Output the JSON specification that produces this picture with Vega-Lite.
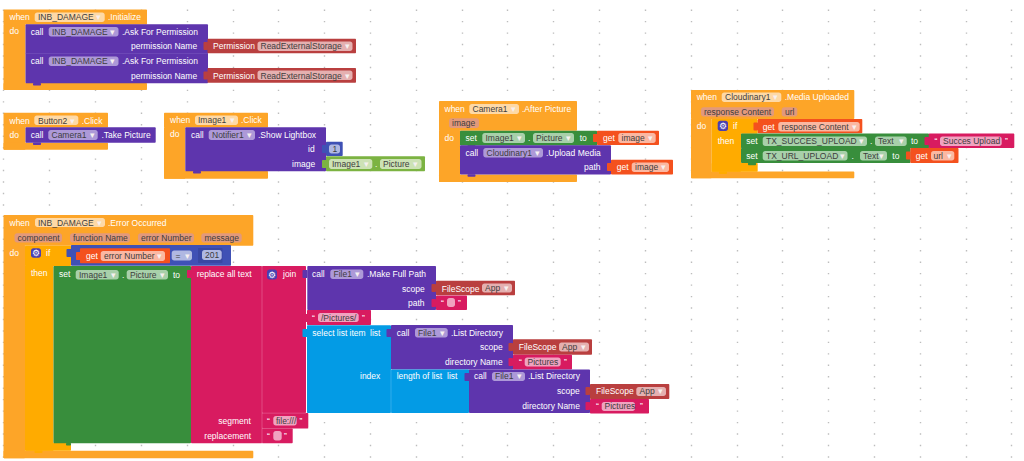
{
  "$schema": "https://vega.github.io/schema/vega-lite/v6.json",
  "width": 1024,
  "height": 461,
  "padding": 0,
  "autosize": {"type": "fit", "contains": "padding"},
  "background": "#ffffff",
  "view": {"stroke": null},
  "datasets": {
    "blocks": [
      {"x": 3.5, "x2": 147, "y": 9.5, "y2": 24.5, "k": "event"},
      {"x": 3.5, "x2": 25.5, "y": 24, "y2": 90, "k": "event"},
      {"x": 3.5, "x2": 147, "y": 83, "y2": 90, "k": "event"},
      {"x": 25.5, "x2": 208, "y": 24.3, "y2": 83.3, "k": "proc"},
      {"x": 33, "x2": 41, "y": 83, "y2": 85.5, "k": "proc"},
      {"x": 25.5, "x2": 208, "y": 53, "y2": 53.6, "k": "sep"},
      {"x": 203.5, "x2": 208, "y": 42, "y2": 50, "k": "perm"},
      {"x": 207.5, "x2": 356, "y": 38.7, "y2": 53.3, "k": "perm"},
      {"x": 203.5, "x2": 208, "y": 71.5, "y2": 79.5, "k": "perm"},
      {"x": 207.5, "x2": 356, "y": 68, "y2": 82.7, "k": "perm"},

      {"x": 3.5, "x2": 108, "y": 112.7, "y2": 127.5, "k": "event"},
      {"x": 3.5, "x2": 25.5, "y": 127, "y2": 149.7, "k": "event"},
      {"x": 3.5, "x2": 108, "y": 142.7, "y2": 149.7, "k": "event"},
      {"x": 25.5, "x2": 155.7, "y": 127.3, "y2": 142.7, "k": "proc"},
      {"x": 33, "x2": 41, "y": 142.5, "y2": 145, "k": "proc"},

      {"x": 164, "x2": 268, "y": 112.7, "y2": 127.5, "k": "event"},
      {"x": 164, "x2": 185.3, "y": 127, "y2": 178.7, "k": "event"},
      {"x": 164, "x2": 268, "y": 171, "y2": 178.7, "k": "event"},
      {"x": 185.3, "x2": 326, "y": 127.3, "y2": 171.3, "k": "proc"},
      {"x": 193, "x2": 201, "y": 171, "y2": 173.5, "k": "proc"},
      {"x": 322, "x2": 326.5, "y": 145, "y2": 153, "k": "math"},
      {"x": 326, "x2": 342.7, "y": 141.7, "y2": 156, "k": "math"},
      {"x": 322, "x2": 326.5, "y": 160, "y2": 168, "k": "comp"},
      {"x": 326, "x2": 425, "y": 156.3, "y2": 171.3, "k": "comp"},

      {"x": 439, "x2": 577, "y": 101, "y2": 130.7, "k": "event"},
      {"x": 439, "x2": 460, "y": 130, "y2": 182, "k": "event"},
      {"x": 439, "x2": 577, "y": 174.5, "y2": 182, "k": "event"},
      {"x": 460, "x2": 597, "y": 130.7, "y2": 145.5, "k": "set"},
      {"x": 467.5, "x2": 475.5, "y": 145, "y2": 147.5, "k": "set"},
      {"x": 593, "x2": 597.5, "y": 134, "y2": 142, "k": "get"},
      {"x": 597, "x2": 659, "y": 130.7, "y2": 145, "k": "get"},
      {"x": 460, "x2": 611, "y": 145.3, "y2": 174.5, "k": "proc"},
      {"x": 467.5, "x2": 475.5, "y": 174.3, "y2": 176.8, "k": "proc"},
      {"x": 607, "x2": 611.5, "y": 163, "y2": 171, "k": "get"},
      {"x": 611, "x2": 673, "y": 159.7, "y2": 174.5, "k": "get"},

      {"x": 691, "x2": 854.3, "y": 90, "y2": 119, "k": "event"},
      {"x": 691, "x2": 711.7, "y": 118.5, "y2": 178.3, "k": "event"},
      {"x": 691, "x2": 854.3, "y": 171.5, "y2": 178.3, "k": "event"},
      {"x": 711.7, "x2": 757.7, "y": 119, "y2": 133.7, "k": "ctrl"},
      {"x": 711.7, "x2": 741, "y": 133, "y2": 171.7, "k": "ctrl"},
      {"x": 711.7, "x2": 757.7, "y": 163, "y2": 171.7, "k": "ctrl"},
      {"x": 719, "x2": 727, "y": 171.5, "y2": 174, "k": "ctrl"},
      {"x": 753.5, "x2": 758, "y": 122.5, "y2": 130.5, "k": "get"},
      {"x": 757.7, "x2": 862.3, "y": 119, "y2": 133.3, "k": "get"},
      {"x": 741, "x2": 929, "y": 133.5, "y2": 148.3, "k": "set"},
      {"x": 924.5, "x2": 929, "y": 137, "y2": 145, "k": "text"},
      {"x": 928.7, "x2": 1014.3, "y": 133.5, "y2": 148, "k": "text"},
      {"x": 741, "x2": 910.5, "y": 148, "y2": 163, "k": "set"},
      {"x": 748, "x2": 756, "y": 162.8, "y2": 165.3, "k": "set"},
      {"x": 906, "x2": 910.5, "y": 151.5, "y2": 159.5, "k": "get"},
      {"x": 910.3, "x2": 958.5, "y": 148, "y2": 163, "k": "get"},

      {"x": 3.5, "x2": 253.3, "y": 215, "y2": 245.7, "k": "event"},
      {"x": 3.5, "x2": 25, "y": 245, "y2": 458.3, "k": "event"},
      {"x": 3.5, "x2": 253.3, "y": 450.7, "y2": 458.3, "k": "event"},
      {"x": 25, "x2": 71, "y": 245.7, "y2": 266, "k": "ctrl"},
      {"x": 25, "x2": 53.5, "y": 265, "y2": 450.7, "k": "ctrl"},
      {"x": 25, "x2": 71, "y": 443, "y2": 450.7, "k": "ctrl"},
      {"x": 34.5, "x2": 42.5, "y": 450.5, "y2": 453, "k": "ctrl"},
      {"x": 66.5, "x2": 71.5, "y": 249, "y2": 257, "k": "math"},
      {"x": 71, "x2": 231, "y": 245, "y2": 265.7, "k": "math"},
      {"x": 76, "x2": 80.5, "y": 252, "y2": 260, "k": "get"},
      {"x": 80, "x2": 170, "y": 248.3, "y2": 263.3, "k": "get"},
      {"x": 198, "x2": 222.5, "y": 248, "y2": 263, "k": "mathdark"},

      {"x": 53.5, "x2": 191, "y": 266, "y2": 443.3, "k": "set"},
      {"x": 66, "x2": 71, "y": 443, "y2": 445.5, "k": "set"},
      {"x": 187, "x2": 191.5, "y": 270, "y2": 278, "k": "text"},
      {"x": 191, "x2": 262, "y": 266, "y2": 443.3, "k": "text"},
      {"x": 262, "x2": 306, "y": 266, "y2": 413, "k": "text"},
      {"x": 262, "x2": 308.3, "y": 413, "y2": 428.3, "k": "text"},
      {"x": 262, "x2": 292.7, "y": 428.3, "y2": 443.3, "k": "text"},
      {"x": 261.6, "x2": 262.4, "y": 266, "y2": 443.3, "k": "textline"},
      {"x": 262, "x2": 308.3, "y": 428, "y2": 428.6, "k": "textline"},
      {"x": 262, "x2": 306, "y": 412.8, "y2": 413.4, "k": "textline"},

      {"x": 302.5, "x2": 307.5, "y": 270, "y2": 278, "k": "proc"},
      {"x": 307.3, "x2": 436, "y": 266, "y2": 310, "k": "proc"},
      {"x": 431.5, "x2": 436, "y": 284, "y2": 292, "k": "perm"},
      {"x": 436, "x2": 515, "y": 280.7, "y2": 295.3, "k": "perm"},
      {"x": 431.5, "x2": 436, "y": 299, "y2": 307, "k": "text"},
      {"x": 436, "x2": 467, "y": 295.5, "y2": 310, "k": "text"},
      {"x": 302.5, "x2": 307.5, "y": 314, "y2": 322, "k": "text"},
      {"x": 307, "x2": 371, "y": 310, "y2": 325, "k": "text"},

      {"x": 302.5, "x2": 307.5, "y": 329, "y2": 337, "k": "list"},
      {"x": 307, "x2": 391, "y": 325.3, "y2": 413, "k": "list"},
      {"x": 386.5, "x2": 391.5, "y": 329, "y2": 337, "k": "proc"},
      {"x": 391, "x2": 513, "y": 325, "y2": 369.5, "k": "proc"},
      {"x": 508.5, "x2": 513, "y": 343, "y2": 351, "k": "perm"},
      {"x": 513, "x2": 592, "y": 339.3, "y2": 354.7, "k": "perm"},
      {"x": 508.5, "x2": 513, "y": 358, "y2": 366, "k": "text"},
      {"x": 513, "x2": 572, "y": 354.7, "y2": 369.5, "k": "text"},
      {"x": 391, "x2": 469, "y": 369.5, "y2": 413, "k": "list"},
      {"x": 390.7, "x2": 391.3, "y": 369.5, "y2": 413, "k": "listline"},
      {"x": 464.5, "x2": 469.5, "y": 373, "y2": 381, "k": "proc"},
      {"x": 469, "x2": 590, "y": 369.5, "y2": 413, "k": "proc"},
      {"x": 585.5, "x2": 590, "y": 387, "y2": 395, "k": "perm"},
      {"x": 590, "x2": 669.3, "y": 384, "y2": 399, "k": "perm"},
      {"x": 585.5, "x2": 590, "y": 402, "y2": 410, "k": "text"},
      {"x": 590, "x2": 649, "y": 399, "y2": 413.5, "k": "text"}
    ],
    "pills": [
      {"x": 34.7, "x2": 104.7, "y": 12.5, "y2": 22, "k": "evt"},
      {"x": 48.7, "x2": 118.5, "y": 27, "y2": 36.5, "k": "proc"},
      {"x": 257.5, "x2": 352.5, "y": 41.5, "y2": 51, "k": "red"},
      {"x": 48.7, "x2": 118.5, "y": 56.5, "y2": 66, "k": "proc"},
      {"x": 257.5, "x2": 352.5, "y": 70.5, "y2": 80, "k": "red"},

      {"x": 34.3, "x2": 78.3, "y": 115.5, "y2": 125, "k": "evt"},
      {"x": 48.3, "x2": 97.7, "y": 130, "y2": 140, "k": "proc"},

      {"x": 195, "x2": 238, "y": 115.5, "y2": 125, "k": "evt"},
      {"x": 208.7, "x2": 255, "y": 130, "y2": 140, "k": "proc"},
      {"x": 329, "x2": 340, "y": 144.5, "y2": 153.5, "k": "mth"},
      {"x": 329, "x2": 372.3, "y": 159, "y2": 169, "k": "lgr"},
      {"x": 380, "x2": 421.5, "y": 159, "y2": 169, "k": "lgr"},

      {"x": 469.3, "x2": 519, "y": 104, "y2": 114, "k": "evt"},
      {"x": 449, "x2": 479, "y": 118.3, "y2": 128, "k": "par"},
      {"x": 482.3, "x2": 525, "y": 133, "y2": 143, "k": "grn"},
      {"x": 533, "x2": 574, "y": 133, "y2": 143, "k": "grn"},
      {"x": 618.3, "x2": 655.7, "y": 133, "y2": 143, "k": "get"},
      {"x": 483.3, "x2": 543, "y": 148, "y2": 157.5, "k": "proc"},
      {"x": 631.7, "x2": 669, "y": 162.5, "y2": 172, "k": "get"},

      {"x": 721.7, "x2": 781.3, "y": 92.5, "y2": 102, "k": "evt"},
      {"x": 701, "x2": 774, "y": 107.3, "y2": 116.5, "k": "par"},
      {"x": 781.7, "x2": 797.3, "y": 107.3, "y2": 116.5, "k": "par"},
      {"x": 717.7, "x2": 728, "y": 120.7, "y2": 131, "k": "gear"},
      {"x": 778.3, "x2": 859.7, "y": 122, "y2": 131.5, "k": "get"},
      {"x": 762.7, "x2": 867, "y": 136.5, "y2": 146, "k": "grn"},
      {"x": 875, "x2": 906.7, "y": 136.5, "y2": 146, "k": "grn"},
      {"x": 940, "x2": 1001.7, "y": 136.5, "y2": 146, "k": "txt"},
      {"x": 762.7, "x2": 847.5, "y": 151, "y2": 160.5, "k": "grn"},
      {"x": 860, "x2": 887, "y": 151, "y2": 160.5, "k": "grn"},
      {"x": 931, "x2": 954.3, "y": 151, "y2": 160.5, "k": "get"},

      {"x": 35, "x2": 105, "y": 218, "y2": 227, "k": "evt"},
      {"x": 14.5, "x2": 62, "y": 233.3, "y2": 242.5, "k": "par"},
      {"x": 70, "x2": 130, "y": 233.3, "y2": 242.5, "k": "par"},
      {"x": 138, "x2": 194, "y": 233.3, "y2": 242.5, "k": "par"},
      {"x": 201.3, "x2": 241.7, "y": 233.3, "y2": 242.5, "k": "par"},
      {"x": 31, "x2": 41, "y": 248.3, "y2": 257.7, "k": "gear"},
      {"x": 100.7, "x2": 165, "y": 251, "y2": 261, "k": "get"},
      {"x": 171.7, "x2": 192, "y": 250.5, "y2": 260.5, "k": "mth"},
      {"x": 202, "x2": 221.7, "y": 250, "y2": 260, "k": "mth"},
      {"x": 75.7, "x2": 118.7, "y": 270, "y2": 279.5, "k": "grn"},
      {"x": 126.7, "x2": 168, "y": 270, "y2": 279.5, "k": "grn"},
      {"x": 267, "x2": 277, "y": 269.5, "y2": 279.5, "k": "gear"},
      {"x": 273.3, "x2": 296.7, "y": 416, "y2": 425.5, "k": "txt"},
      {"x": 273.3, "x2": 281.7, "y": 431, "y2": 440.5, "k": "txt"},

      {"x": 330.3, "x2": 363.3, "y": 269.5, "y2": 279, "k": "proc"},
      {"x": 482, "x2": 512, "y": 283.5, "y2": 292.5, "k": "red"},
      {"x": 447, "x2": 455, "y": 298, "y2": 307, "k": "txt"},
      {"x": 318, "x2": 358.7, "y": 313, "y2": 322, "k": "txt"},
      {"x": 415, "x2": 447.7, "y": 328, "y2": 337.5, "k": "proc"},
      {"x": 559, "x2": 589, "y": 342.5, "y2": 351.5, "k": "red"},
      {"x": 524.7, "x2": 560.7, "y": 357.5, "y2": 366.5, "k": "txt"},
      {"x": 492, "x2": 525, "y": 372, "y2": 381, "k": "proc"},
      {"x": 636.3, "x2": 666, "y": 387, "y2": 396, "k": "red"},
      {"x": 601.7, "x2": 635, "y": 402, "y2": 411, "k": "txt"}
    ],
    "labels": [
      {"x": 9.5, "y": 17, "t": "when", "r": "w"},
      {"x": 38, "y": 17, "t": "INB_DAMAGE", "r": "d"},
      {"x": 96, "y": 17, "t": "▾", "r": "a"},
      {"x": 108, "y": 17, "t": ".Initialize", "r": "w"},
      {"x": 9.5, "y": 31, "t": "do", "r": "w"},
      {"x": 30.7, "y": 32, "t": "call", "r": "w"},
      {"x": 52, "y": 32, "t": "INB_DAMAGE", "r": "d"},
      {"x": 110, "y": 32, "t": "▾", "r": "a"},
      {"x": 122, "y": 32, "t": ".Ask For Permission", "r": "w"},
      {"x": 131, "y": 46, "t": "permission Name", "r": "w"},
      {"x": 213, "y": 46, "t": "Permission", "r": "w"},
      {"x": 260.5, "y": 46, "t": "ReadExternalStorage", "r": "d"},
      {"x": 345, "y": 46, "t": "▾", "r": "a"},
      {"x": 30.7, "y": 61, "t": "call", "r": "w"},
      {"x": 52, "y": 61, "t": "INB_DAMAGE", "r": "d"},
      {"x": 110, "y": 61, "t": "▾", "r": "a"},
      {"x": 122, "y": 61, "t": ".Ask For Permission", "r": "w"},
      {"x": 131, "y": 75.5, "t": "permission Name", "r": "w"},
      {"x": 213, "y": 75.5, "t": "Permission", "r": "w"},
      {"x": 260.5, "y": 75.5, "t": "ReadExternalStorage", "r": "d"},
      {"x": 345, "y": 75.5, "t": "▾", "r": "a"},

      {"x": 9.5, "y": 120.5, "t": "when", "r": "w"},
      {"x": 38, "y": 120.5, "t": "Button2", "r": "d"},
      {"x": 70, "y": 120.5, "t": "▾", "r": "a"},
      {"x": 81.7, "y": 120.5, "t": ".Click", "r": "w"},
      {"x": 9.5, "y": 134.7, "t": "do", "r": "w"},
      {"x": 30.7, "y": 135, "t": "call", "r": "w"},
      {"x": 51.5, "y": 135, "t": "Camera1", "r": "d"},
      {"x": 90, "y": 135, "t": "▾", "r": "a"},
      {"x": 101.5, "y": 135, "t": ".Take Picture", "r": "w"},

      {"x": 170, "y": 120, "t": "when", "r": "w"},
      {"x": 198, "y": 120, "t": "Image1", "r": "d"},
      {"x": 230, "y": 120, "t": "▾", "r": "a"},
      {"x": 241, "y": 120, "t": ".Click", "r": "w"},
      {"x": 170, "y": 134, "t": "do", "r": "w"},
      {"x": 191, "y": 135, "t": "call", "r": "w"},
      {"x": 212, "y": 135, "t": "Notifier1", "r": "d"},
      {"x": 247, "y": 135, "t": "▾", "r": "a"},
      {"x": 258, "y": 135, "t": ".Show Lightbox", "r": "w"},
      {"x": 308, "y": 149, "t": "id", "r": "w"},
      {"x": 332.5, "y": 149, "t": "1", "r": "d"},
      {"x": 292, "y": 164, "t": "image", "r": "w"},
      {"x": 332, "y": 164, "t": "Image1", "r": "d"},
      {"x": 364, "y": 164, "t": "▾", "r": "a"},
      {"x": 375, "y": 164, "t": ".", "r": "w"},
      {"x": 383, "y": 164, "t": "Picture", "r": "d"},
      {"x": 413, "y": 164, "t": "▾", "r": "a"},

      {"x": 444.5, "y": 109, "t": "when", "r": "w"},
      {"x": 472.5, "y": 109, "t": "Camera1", "r": "d"},
      {"x": 511, "y": 109, "t": "▾", "r": "a"},
      {"x": 522, "y": 109, "t": ".After Picture", "r": "w"},
      {"x": 452, "y": 123, "t": "image", "r": "d"},
      {"x": 444.5, "y": 138, "t": "do", "r": "w"},
      {"x": 465.5, "y": 138, "t": "set", "r": "w"},
      {"x": 485.5, "y": 138, "t": "Image1", "r": "d"},
      {"x": 517, "y": 138, "t": "▾", "r": "a"},
      {"x": 528, "y": 138, "t": ".", "r": "w"},
      {"x": 536, "y": 138, "t": "Picture", "r": "d"},
      {"x": 566, "y": 138, "t": "▾", "r": "a"},
      {"x": 579.7, "y": 138, "t": "to", "r": "w"},
      {"x": 603, "y": 138, "t": "get", "r": "w"},
      {"x": 621.5, "y": 138, "t": "image", "r": "d"},
      {"x": 648, "y": 138, "t": "▾", "r": "a"},
      {"x": 465.5, "y": 152.5, "t": "call", "r": "w"},
      {"x": 486.5, "y": 152.5, "t": "Cloudinary1", "r": "d"},
      {"x": 535, "y": 152.5, "t": "▾", "r": "a"},
      {"x": 546, "y": 152.5, "t": ".Upload Media", "r": "w"},
      {"x": 584, "y": 167, "t": "path", "r": "w"},
      {"x": 616.7, "y": 167, "t": "get", "r": "w"},
      {"x": 635, "y": 167, "t": "image", "r": "d"},
      {"x": 661, "y": 167, "t": "▾", "r": "a"},

      {"x": 696.7, "y": 97, "t": "when", "r": "w"},
      {"x": 725, "y": 97, "t": "Cloudinary1", "r": "d"},
      {"x": 773, "y": 97, "t": "▾", "r": "a"},
      {"x": 784.7, "y": 97, "t": ".Media Uploaded", "r": "w"},
      {"x": 704, "y": 112, "t": "response Content", "r": "d"},
      {"x": 785, "y": 112, "t": "url", "r": "d"},
      {"x": 696.7, "y": 125.5, "t": "do", "r": "w"},
      {"x": 719, "y": 126, "t": "⚙", "r": "w"},
      {"x": 733, "y": 126, "t": "if", "r": "w"},
      {"x": 717.7, "y": 141, "t": "then", "r": "w"},
      {"x": 762.7, "y": 126.5, "t": "get", "r": "w"},
      {"x": 781.5, "y": 126.5, "t": "response Content", "r": "d"},
      {"x": 852, "y": 126.5, "t": "▾", "r": "a"},
      {"x": 746.3, "y": 141, "t": "set", "r": "w"},
      {"x": 766, "y": 141, "t": "TX_SUCCES_UPLOAD", "r": "d"},
      {"x": 859, "y": 141, "t": "▾", "r": "a"},
      {"x": 870, "y": 141, "t": ".", "r": "w"},
      {"x": 878, "y": 141, "t": "Text", "r": "d"},
      {"x": 899, "y": 141, "t": "▾", "r": "a"},
      {"x": 911, "y": 141, "t": "to", "r": "w"},
      {"x": 934.5, "y": 141, "t": "“", "r": "w"},
      {"x": 943, "y": 141, "t": "Succes Upload", "r": "d"},
      {"x": 1005, "y": 141, "t": "”", "r": "w"},
      {"x": 746.3, "y": 156, "t": "set", "r": "w"},
      {"x": 766, "y": 156, "t": "TX_URL_UPLOAD", "r": "d"},
      {"x": 840, "y": 156, "t": "▾", "r": "a"},
      {"x": 851.5, "y": 156, "t": ".", "r": "w"},
      {"x": 863, "y": 156, "t": "Text", "r": "d"},
      {"x": 879, "y": 156, "t": "▾", "r": "a"},
      {"x": 892.3, "y": 156, "t": "to", "r": "w"},
      {"x": 915.7, "y": 156, "t": "get", "r": "w"},
      {"x": 933.5, "y": 156, "t": "url", "r": "d"},
      {"x": 946.5, "y": 156, "t": "▾", "r": "a"},

      {"x": 9.5, "y": 222.5, "t": "when", "r": "w"},
      {"x": 38, "y": 222.5, "t": "INB_DAMAGE", "r": "d"},
      {"x": 97, "y": 222.5, "t": "▾", "r": "a"},
      {"x": 108, "y": 222.5, "t": ".Error Occurred", "r": "w"},
      {"x": 17.5, "y": 238, "t": "component", "r": "d"},
      {"x": 73, "y": 238, "t": "function Name", "r": "d"},
      {"x": 141, "y": 238, "t": "error Number", "r": "d"},
      {"x": 204.5, "y": 238, "t": "message", "r": "d"},
      {"x": 9.5, "y": 252.5, "t": "do", "r": "w"},
      {"x": 32, "y": 253, "t": "⚙", "r": "w"},
      {"x": 46, "y": 252.5, "t": "if", "r": "w"},
      {"x": 31, "y": 273, "t": "then", "r": "w"},
      {"x": 86, "y": 256, "t": "get", "r": "w"},
      {"x": 104, "y": 256, "t": "error Number", "r": "d"},
      {"x": 157, "y": 256, "t": "▾", "r": "a"},
      {"x": 175.5, "y": 255.5, "t": "=", "r": "d"},
      {"x": 184.5, "y": 255.5, "t": "▾", "r": "a"},
      {"x": 205, "y": 255, "t": "201", "r": "d"},
      {"x": 59, "y": 274, "t": "set", "r": "w"},
      {"x": 79, "y": 274.5, "t": "Image1", "r": "d"},
      {"x": 110.5, "y": 274.5, "t": "▾", "r": "a"},
      {"x": 122, "y": 274.5, "t": ".", "r": "w"},
      {"x": 130, "y": 274.5, "t": "Picture", "r": "d"},
      {"x": 160, "y": 274.5, "t": "▾", "r": "a"},
      {"x": 173, "y": 274.5, "t": "to", "r": "w"},
      {"x": 196.7, "y": 274, "t": "replace all text", "r": "w"},
      {"x": 268, "y": 274.5, "t": "⚙", "r": "w"},
      {"x": 283, "y": 274, "t": "join", "r": "w"},
      {"x": 218.3, "y": 421, "t": "segment", "r": "w"},
      {"x": 204.3, "y": 436, "t": "replacement", "r": "w"},
      {"x": 267, "y": 421, "t": "“", "r": "w"},
      {"x": 276, "y": 421, "t": "file:///", "r": "d"},
      {"x": 299.5, "y": 421, "t": "”", "r": "w"},
      {"x": 267, "y": 436, "t": "“", "r": "w"},
      {"x": 284, "y": 436, "t": "”", "r": "w"},

      {"x": 312, "y": 274, "t": "call", "r": "w"},
      {"x": 333.5, "y": 274, "t": "File1", "r": "d"},
      {"x": 355, "y": 274, "t": "▾", "r": "a"},
      {"x": 367, "y": 274, "t": ".Make Full Path", "r": "w"},
      {"x": 402, "y": 288.5, "t": "scope", "r": "w"},
      {"x": 441.7, "y": 288.5, "t": "FileScope", "r": "w"},
      {"x": 485, "y": 288, "t": "App", "r": "d"},
      {"x": 504, "y": 288, "t": "▾", "r": "a"},
      {"x": 408, "y": 302.5, "t": "path", "r": "w"},
      {"x": 441, "y": 302.5, "t": "“", "r": "w"},
      {"x": 458, "y": 302.5, "t": "”", "r": "w"},
      {"x": 312, "y": 317.5, "t": "“", "r": "w"},
      {"x": 321, "y": 317.5, "t": "/Pictures/", "r": "d"},
      {"x": 362, "y": 317.5, "t": "”", "r": "w"},
      {"x": 312.3, "y": 332.5, "t": "select list item", "r": "w"},
      {"x": 370, "y": 332.5, "t": "list", "r": "w"},
      {"x": 396.7, "y": 332.5, "t": "call", "r": "w"},
      {"x": 418, "y": 332.5, "t": "File1", "r": "d"},
      {"x": 440, "y": 332.5, "t": "▾", "r": "a"},
      {"x": 451, "y": 332.5, "t": ".List Directory", "r": "w"},
      {"x": 480, "y": 347, "t": "scope", "r": "w"},
      {"x": 518.7, "y": 347, "t": "FileScope", "r": "w"},
      {"x": 562, "y": 347, "t": "App", "r": "d"},
      {"x": 581, "y": 347, "t": "▾", "r": "a"},
      {"x": 445, "y": 362, "t": "directory Name", "r": "w"},
      {"x": 519, "y": 362, "t": "“", "r": "w"},
      {"x": 527.5, "y": 362, "t": "Pictures", "r": "d"},
      {"x": 564, "y": 362, "t": "”", "r": "w"},
      {"x": 360, "y": 376, "t": "index", "r": "w"},
      {"x": 396.7, "y": 376, "t": "length of list", "r": "w"},
      {"x": 447, "y": 376, "t": "list", "r": "w"},
      {"x": 474, "y": 376, "t": "call", "r": "w"},
      {"x": 495, "y": 376, "t": "File1", "r": "d"},
      {"x": 517, "y": 376, "t": "▾", "r": "a"},
      {"x": 528, "y": 376, "t": ".List Directory", "r": "w"},
      {"x": 557, "y": 391, "t": "scope", "r": "w"},
      {"x": 596, "y": 391, "t": "FileScope", "r": "w"},
      {"x": 639.5, "y": 391, "t": "App", "r": "d"},
      {"x": 658, "y": 391, "t": "▾", "r": "a"},
      {"x": 522.3, "y": 405.5, "t": "directory Name", "r": "w"},
      {"x": 596, "y": 406, "t": "“", "r": "w"},
      {"x": 604.5, "y": 406, "t": "Pictures", "r": "d"},
      {"x": 640, "y": 406, "t": "”", "r": "w"}
    ]
  },
  "layer": [
    {
      "data": {"name": "blocks"},
      "mark": {"type": "rect", "cornerRadius": 1},
      "encoding": {
        "x": {
          "field": "x",
          "type": "quantitative",
          "scale": {"domain": [0, 1024], "nice": false, "zero": false},
          "axis": {
            "title": null,
            "labels": false,
            "ticks": false,
            "domain": false,
            "grid": true,
            "gridColor": "#bdbdbd",
            "gridWidth": 1.4,
            "gridDash": [1.4, 10.055],
            "gridDashOffset": 7.6,
            "values": [3.44, 14.9, 26.35, 37.81, 49.26, 60.72, 72.17, 83.63, 95.08, 106.54, 117.99, 129.45, 140.9, 152.36, 163.81, 175.27, 186.72, 198.18, 209.63, 221.09, 232.54, 244, 255.45, 266.91, 278.36, 289.82, 301.27, 312.73, 324.18, 335.64, 347.09, 358.55, 370, 381.46, 392.91, 404.37, 415.82, 427.28, 438.73, 450.19, 461.64, 473.1, 484.55, 496.01, 507.46, 518.92, 530.37, 541.83, 553.28, 564.74, 576.19, 587.65, 599.1, 610.56, 622.01, 633.47, 644.92, 656.38, 667.83, 679.29, 690.74, 702.2, 713.65, 725.11, 736.56, 748.02, 759.47, 770.93, 782.38, 793.84, 805.29, 816.75, 828.2, 839.66, 851.11, 862.57, 874.02, 885.48, 896.93, 908.39, 919.84, 931.3, 942.75, 954.21, 965.66, 977.12, 988.57, 1000.03, 1011.48, 1022.94]
          }
        },
        "x2": {"field": "x2"},
        "y": {
          "field": "y",
          "type": "quantitative",
          "scale": {"domain": [0, 461], "reverse": true, "nice": false, "zero": false},
          "axis": null
        },
        "y2": {"field": "y2"},
        "fill": {
          "field": "k",
          "type": "nominal",
          "legend": null,
          "scale": {
            "domain": ["event", "ctrl", "proc", "sep", "perm", "comp", "set", "get", "text", "textline", "math", "mathdark", "list", "listline"],
            "range": ["#fda528", "#ffab00", "#5e35ad", "#7a5bc0", "#b93f3f", "#7cb342", "#388e3c", "#f4511e", "#d81b60", "#e4558a", "#3f51b5", "#3847a3", "#039be5", "#4db8ee"]
          }
        }
      }
    },
    {
      "data": {"name": "pills"},
      "mark": {"type": "rect", "cornerRadius": 2.5},
      "encoding": {
        "x": {"field": "x", "type": "quantitative"},
        "x2": {"field": "x2"},
        "y": {"field": "y", "type": "quantitative"},
        "y2": {"field": "y2"},
        "fill": {
          "field": "k",
          "type": "nominal",
          "legend": null,
          "scale": {
            "domain": ["evt", "proc", "red", "grn", "lgr", "get", "txt", "mth", "par", "gear"],
            "range": ["#fed9a6", "#ad99d8", "#e5b0b0", "#a8d0aa", "#cde2b5", "#fbb8a2", "#f0a3c0", "#b0b8e2", "#e2997b", "#4a3fb0"]
          }
        }
      }
    },
    {
      "data": {"name": "labels"},
      "mark": {"type": "text", "align": "left", "baseline": "middle", "font": "Liberation Sans", "fontSize": 8.5},
      "encoding": {
        "x": {"field": "x", "type": "quantitative"},
        "y": {"field": "y", "type": "quantitative"},
        "text": {"field": "t"},
        "color": {
          "field": "r",
          "type": "nominal",
          "legend": null,
          "scale": {"domain": ["w", "d", "a"], "range": ["#ffffff", "#3d3d3d", "#f6f0f0"]}
        }
      }
    }
  ],
  "resolve": {"scale": {"fill": "independent"}}
}
